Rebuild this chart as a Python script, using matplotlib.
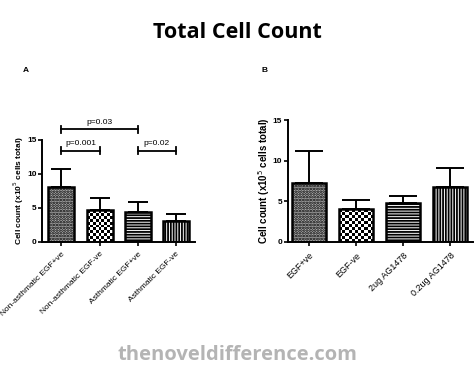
import matplotlib.pyplot as plt
import numpy as np

plt.rcParams['font.family'] = ['Liberation Sans', 'DejaVu Sans']
plt.rcParams['hatch.linewidth'] = 1.3

# Panel A data
groups_a = ['Non-asthmatic EGF+ve', 'Non-asthmatic EGF-ve', 'Asthmatic EGF+ve', 'Asthmatic EGF-ve']
means_a = [8.0, 4.7, 4.4, 3.0]
errs_a = [2.7, 1.8, 1.5, 1.1]

# Panel B data
groups_b = ['EGF+ve', 'EGF-ve', '2ug AG1478', '0.2ug AG1478']
means_b = [7.2, 4.05, 4.8, 6.8]
errs_b = [4.0, 1.15, 0.85, 2.3]

# significance brackets for panel A: (bar i, bar j, height, label)
sig_a = [(0, 2, 16.6, 'p=0.03'), (0, 1, 13.4, 'p=0.001'), (2, 3, 13.4, 'p=0.02')]

hatches = ['......', None, '------', '||||||']
faces = ['#b0b0b0', 'white', 'white', 'white']

fig = plt.figure(figsize=(4.74, 3.79), dpi=100)
fig.text(0.5, 0.915, 'Total Cell Count', ha='center', va='center',
         fontsize=15.5, fontweight='bold', family='Open Sans')
fig.text(0.5, 0.063, 'thenoveldifference.com', ha='center', va='center',
         fontsize=14.5, fontweight='bold', color='#b4b4b4', family='Open Sans')
fig.text(26 / 474, 1 - 71 / 379, 'A', fontsize=6, fontweight='bold', ha='center', va='center')
fig.text(265 / 474, 1 - 71 / 379, 'B', fontsize=6, fontweight='bold', ha='center', va='center')


def checker(ax, bar, px=3.0):
    # checkerboard texture clipped to the bar
    x0, y0 = bar.get_x(), bar.get_y()
    w, h = bar.get_width(), bar.get_height()
    p0 = ax.transData.transform((x0, y0))
    p1 = ax.transData.transform((x0 + w, y0 + h))
    nx = max(1, int(round((p1[0] - p0[0]) / px)))
    ny = max(1, int(round((p1[1] - p0[1]) / px)))
    grid = (np.add.outer(np.arange(ny), np.arange(nx)) % 2).astype(float)
    im = ax.imshow(grid, cmap='gray', extent=(x0, x0 + w, y0, y0 + h), aspect='auto',
                   interpolation='nearest', zorder=1.5)
    im.set_clip_path(bar)


def panel(ax, names, means, errs, width, xlim, cap, tick_fs, label_fs):
    x = np.arange(len(names))
    ax.set_xlim(*xlim)
    ax.set_ylim(0, 15)
    bars = ax.bar(x, means, width=width, color=faces, edgecolor='black', linewidth=1.8, zorder=2)
    for b, h in zip(bars, hatches):
        if h:
            b.set_hatch(h)
    bars[1].set_facecolor('none')
    checker(ax, bars[1])
    ax.errorbar(x, means, yerr=[np.zeros(len(errs)), errs], fmt='none', ecolor='black',
                elinewidth=1.4, capsize=cap, capthick=1.4, zorder=1)
    ax.set_yticks([0, 5, 10, 15])
    ax.set_xticks(x)
    ax.set_xticklabels(names, rotation=45, ha='right', rotation_mode='anchor', fontsize=tick_fs)
    ax.tick_params(axis='y', labelsize=6, width=1.2, length=3, pad=1)
    ax.tick_params(axis='x', width=1.2, length=3)
    for lab in ax.get_yticklabels():
        lab.set_fontweight('bold')
    ax.spines['top'].set_visible(False)
    ax.spines['right'].set_visible(False)
    ax.spines['left'].set_linewidth(1.4)
    ax.spines['bottom'].set_linewidth(1.4)
    ax.set_ylabel('Cell count (x10$^{5}$ cells total)', fontsize=label_fs, fontweight='bold')
    ax.set_aspect('auto')
    return x


ax1 = fig.add_axes([42 / 474, 1 - 241.7 / 379, 153 / 474, 101.7 / 379])
xa = panel(ax1, groups_a, means_a, errs_a, 0.68, (-0.51, 3.5), 7.5, 6.0, 6.0)
ax1.yaxis.set_label_coords(-0.105, 0.5)
for i, j, h, lab in sig_a:
    ax1.plot([xa[i], xa[j]], [h, h], color='black', lw=1.3, clip_on=False)
    ax1.plot([xa[i], xa[i]], [h - 0.5, h + 0.5], color='black', lw=1.3, clip_on=False)
    ax1.plot([xa[j], xa[j]], [h - 0.5, h + 0.5], color='black', lw=1.3, clip_on=False)
    ax1.text((xa[i] + xa[j]) / 2, h + 0.5, lab, ha='center', va='bottom', fontsize=6, clip_on=False)

ax2 = fig.add_axes([287.7 / 474, 1 - 241.7 / 379, 185 / 474, 121.4 / 379])
panel(ax2, groups_b, means_b, errs_b, 0.73, (-0.45, 3.48), 10, 6.5, 7)
ax2.yaxis.set_label_coords(-0.085, 0.5)

fig.savefig('out.png', dpi=100)
